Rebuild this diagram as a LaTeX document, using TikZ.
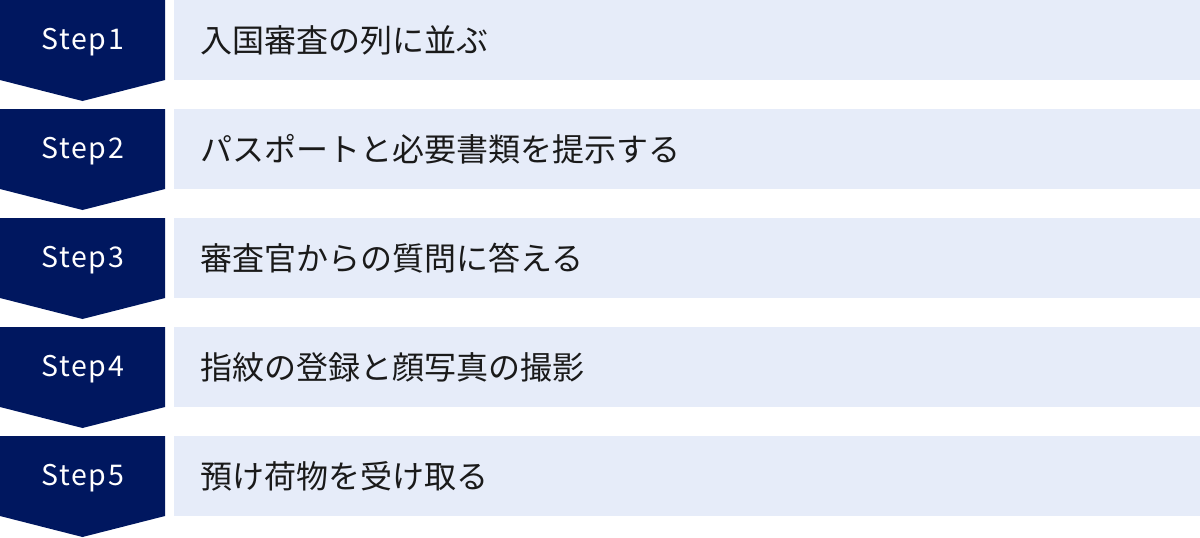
\documentclass[tikz,border=0pt]{standalone}
\usepackage{fontspec}
\setmainfont{Noto Sans CJK JP}
\newfontfamily\jpfont{Noto Sans CJK JP}
\newfontfamily\stepfont[LetterSpace=6]{Noto Sans CJK JP}
\definecolor{navy}{HTML}{00175F}
\definecolor{pale}{HTML}{E6ECF9}
\definecolor{ink}{HTML}{1A1A1A}
\tikzset{
  stepshape/.style={fill=navy},
  palebox/.style={fill=pale, inner sep=0pt, minimum width=1026pt, minimum height=80pt, anchor=north west},
  steplabel/.style={text=white, inner sep=0pt, font=\stepfont\fontsize{28.5}{28.5}\selectfont},
  itemtext/.style={text=ink, inner sep=0pt, anchor=west, font=\jpfont\fontsize{32}{32}\selectfont}
}
\begin{document}
\begin{tikzpicture}[x=1pt,y=-1pt]
\useasboundingbox (0,0) rectangle (1200,538);
\foreach \t [count=\n] in {入国審査の列に並ぶ, パスポートと必要書類を提示する, 審査官からの質問に答える, 指紋の登録と顔写真の撮影, 預け荷物を受け取る} {
  \pgfmathsetmacro\yy{(\n-1)*109}
  \fill[stepshape] (0,\yy) -- (165,\yy) -- (165,{\yy+80}) -- (82.5,{\yy+101}) -- (0,{\yy+80}) -- cycle;
  \node[steplabel] (step\n) at (82.5,{\yy+42.5}) {Step\n};
  \node[palebox] (box\n) at (174,\yy) {};
  \node[itemtext] (text\n) at (200,{\yy+40.5}) {\t};
}
\end{tikzpicture}
\end{document}
